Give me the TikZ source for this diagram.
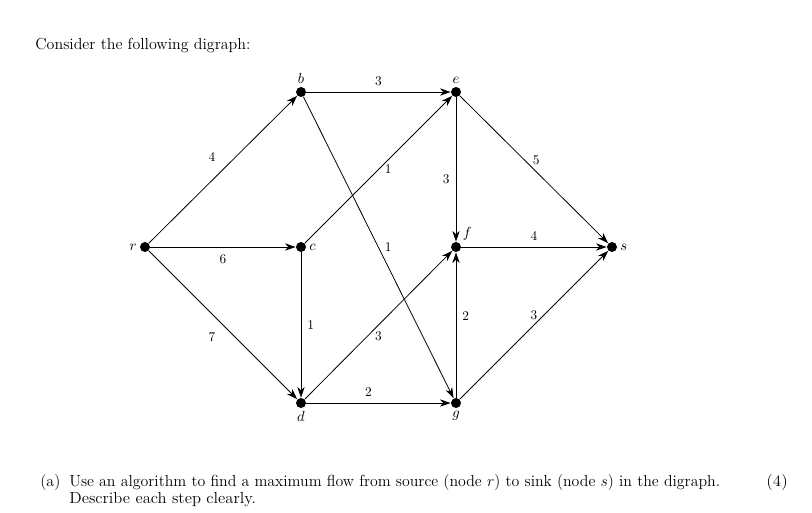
\documentclass[tikz,border=0pt]{standalone}
\usepackage{graphicx}
\usetikzlibrary{arrows.meta}
\tikzset{every picture/.style={line width=0.6pt}}

\begin{document}
\begin{tikzpicture}[x=0.75pt,y=0.75pt,yscale=-1,xscale=1,
  vertex/.style={circle,fill=black,inner sep=0pt,minimum size=7.5pt},
  arc/.style={-{Stealth[length=8pt,width=5.5pt,inset=2.5pt]}},
  wt/.style={font=\normalsize,inner sep=1pt},
  every label/.style={font=\fontsize{11}{13}\selectfont,inner sep=2pt},
  txt/.style={anchor=base west,inner sep=0pt,font=\large}]
\useasboundingbox (0,0) rectangle (812,512);

% Vertices
\node[vertex,label={left:$r$}] (r) at (145,247) {};
\node[vertex,label={above:$b$}] (b) at (301,92) {};
\node[vertex,label={right:$c$}] (c) at (301,247) {};
\node[vertex,label={below:$d$}] (d) at (301,403) {};
\node[vertex,label={above:$e$}] (e) at (456,92) {};
\node[vertex,label={above right:$f$}] (f) at (456,247) {};
\node[vertex,label={below:$g$}] (g) at (456,403) {};
\node[vertex,label={right:$s$}] (s) at (612,247) {};

% Arcs
\draw[arc] (r) -- (b) node[wt,midway,above left=4.5pt] {4};
\draw[arc] (r) -- (c) node[wt,midway,below=4.5pt] {6};
\draw[arc] (r) -- (d) node[wt,midway,below left=4.5pt] {7};
\draw[arc] (b) -- (e) node[wt,midway,above=3.5pt] {3};
\draw[arc] (b) -- (g) node[wt,midway,right=3.5pt] {1};
\draw[arc] (c) -- (e) node[wt,midway,right=3.5pt] {1};
\draw[arc] (c) -- (d) node[wt,midway,right=3.5pt] {1};
\draw[arc] (e) -- (f) node[wt,pos=0.57,left=3.5pt] {3};
\draw[arc] (e) -- (s) node[wt,pos=0.48,above right=0pt] {5};
\draw[arc] (f) -- (s) node[wt,midway,above=3.5pt] {4};
\draw[arc] (d) -- (f) node[wt,midway,below=4pt] {3};
\draw[arc] (d) -- (g) node[wt,pos=0.43,above=3.5pt] {2};
\draw[arc] (g) -- (f) node[wt,pos=0.56,right=3.5pt] {2};
\draw[arc] (g) -- (s) node[wt,pos=0.53,above left=-0.5pt] {3};

% Text Node
\node[txt] (intro) at (35,49) {Consider the following digraph:};
% Text Node
\node[txt] (qa) at (40,486) {\resizebox{15pt}{\height}{(a)}};
% Text Node
\node[txt] (qa1) at (69,486) {\resizebox{488pt}{\height}{Use an algorithm to find a maximum flow from source (node $r$) to sink (node $s$) in the digraph.}};
% Text Node
\node[txt] (qa2) at (69,503) {\resizebox{140pt}{\height}{Describe each step clearly.}};
% Text Node
\node[txt] (mark) at (766,486) {\resizebox{16pt}{\height}{(4)}};

\end{tikzpicture}
\end{document}
